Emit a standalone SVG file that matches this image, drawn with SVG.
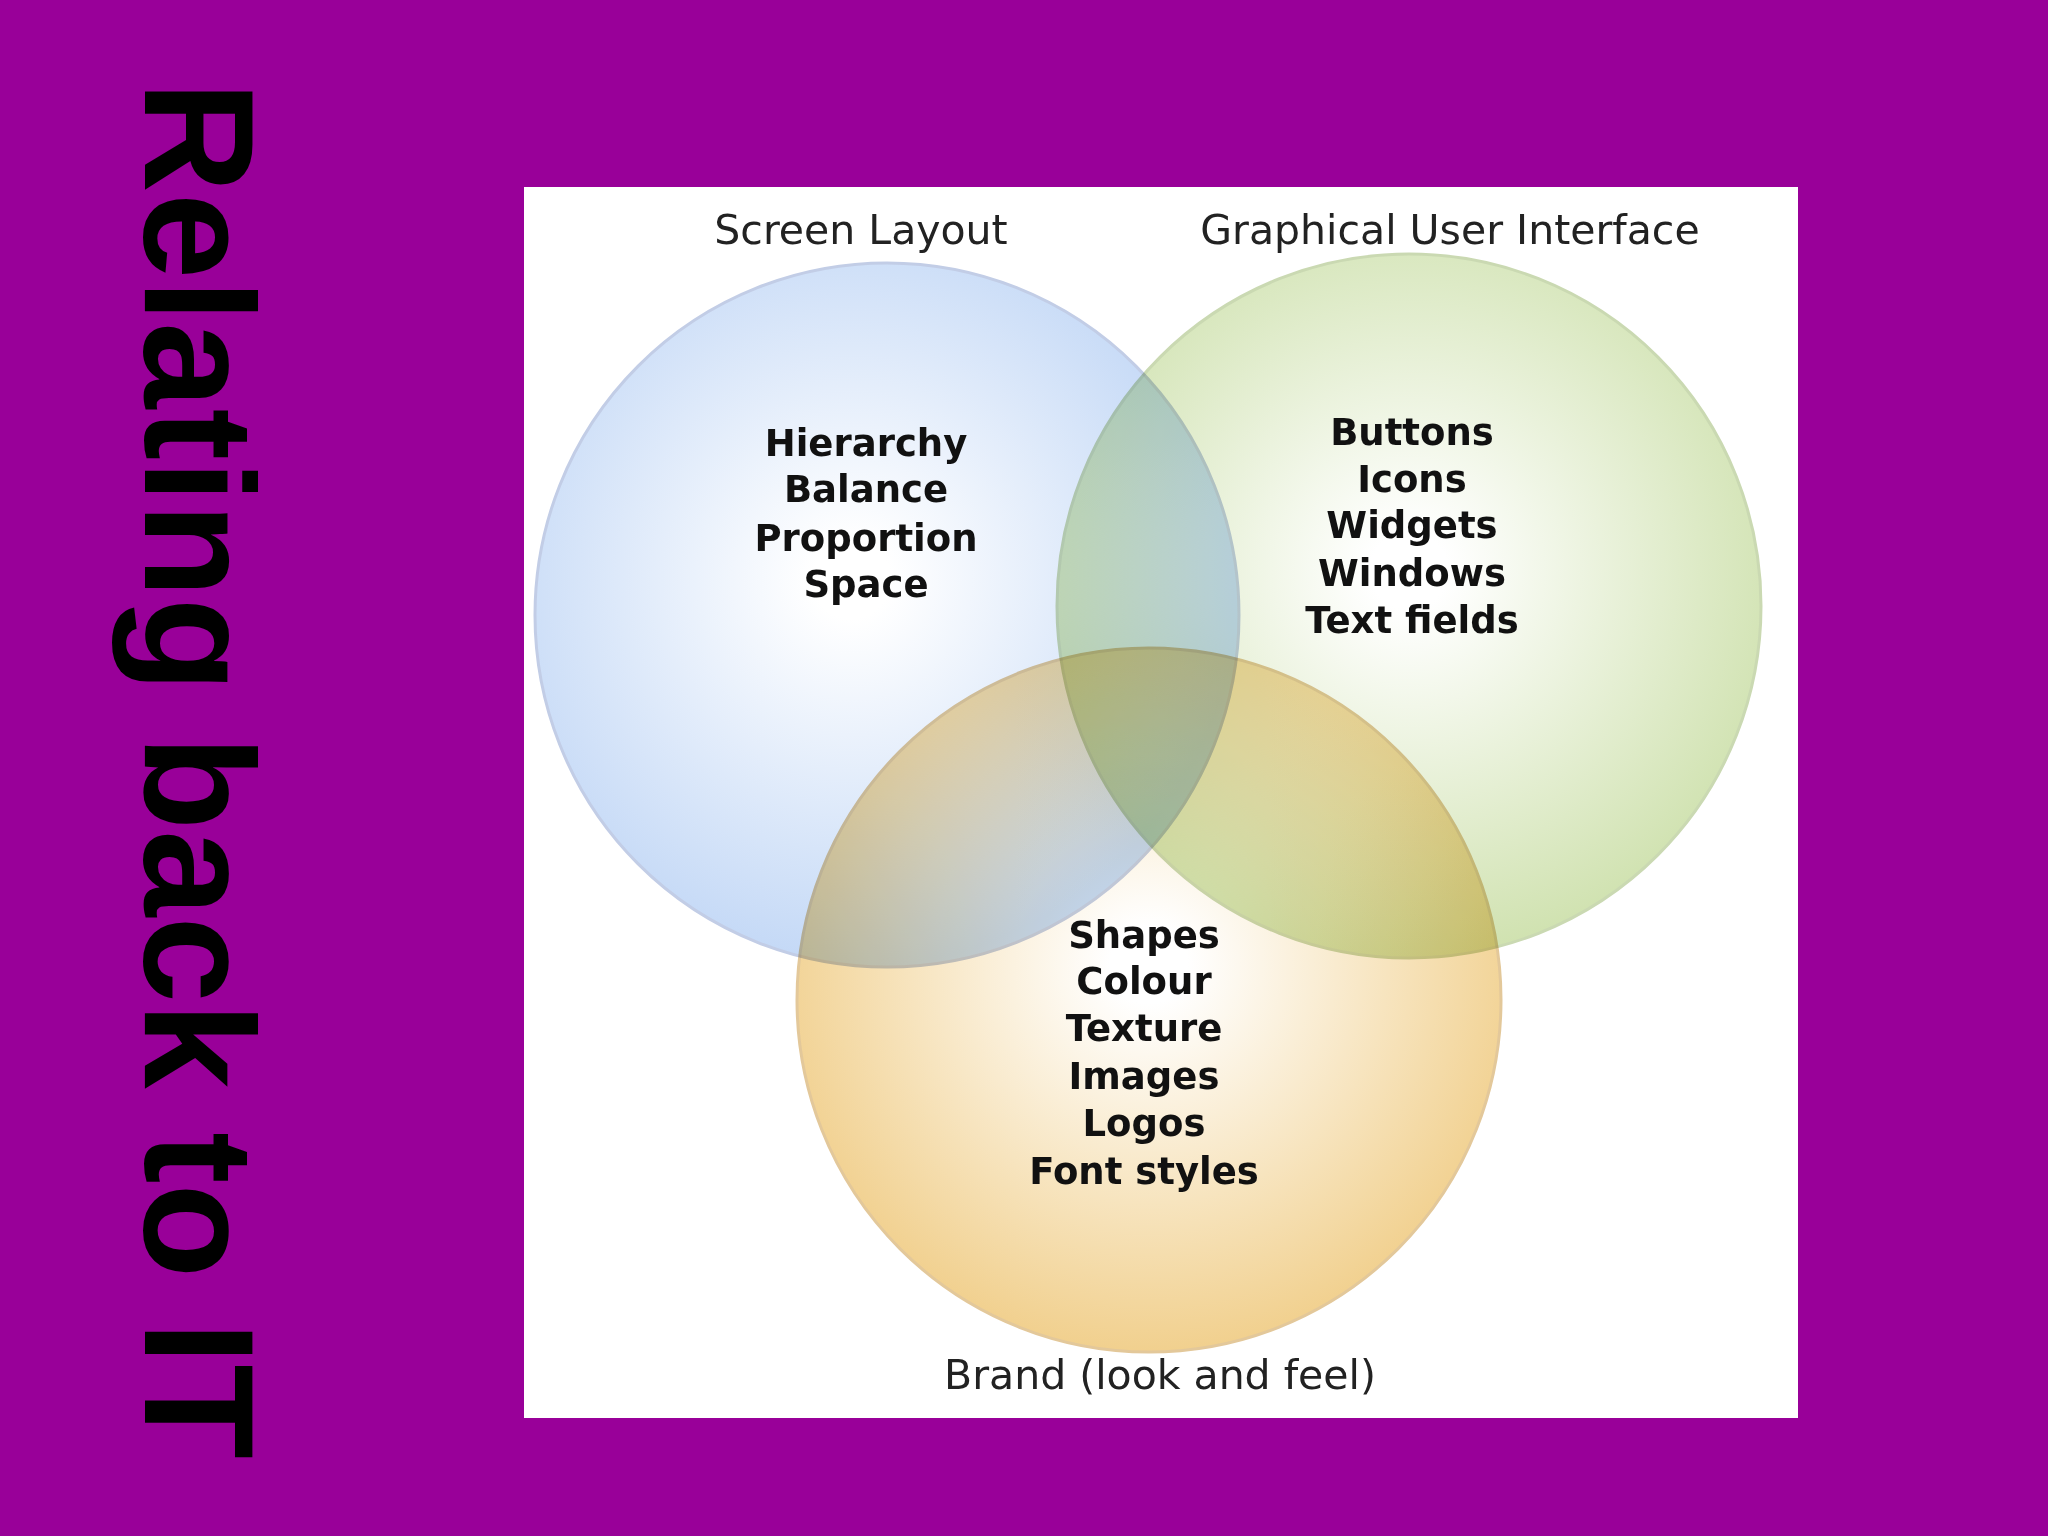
<svg xmlns="http://www.w3.org/2000/svg" width="2048" height="1536" viewBox="0 0 2048 1536">
<style>
.lbl{font-family:"DejaVu Sans",Verdana,sans-serif;font-size:41px;fill:#222;text-anchor:middle}
.in{font-family:"DejaVu Sans",Verdana,sans-serif;font-size:37px;fill:#111;text-anchor:middle;font-weight:bold}
.c{mix-blend-mode:multiply;stroke-width:3}
</style>
<defs>
<radialGradient id="gb" cx="0.45" cy="0.45" r="0.55"><stop offset="0.1" stop-color="#ffffff"/><stop offset="1" stop-color="#c3d8f6"/></radialGradient>
<radialGradient id="gg" cx="0.5" cy="0.45" r="0.55"><stop offset="0.1" stop-color="#ffffff"/><stop offset="1" stop-color="#d0e2b0"/></radialGradient>
<radialGradient id="go" cx="0.5" cy="0.45" r="0.55"><stop offset="0.1" stop-color="#ffffff"/><stop offset="1" stop-color="#f1d08e"/></radialGradient>
</defs>
<rect width="2048" height="1536" fill="#990099"/>
<text transform="translate(145,770) rotate(90)" font-family="Liberation Sans,Arial,sans-serif" font-weight="bold" font-size="155" text-anchor="middle" fill="#000">Relating back to IT</text>
<rect x="524" y="187" width="1274" height="1231" fill="#fff"/>
<g id="screen-layout"><circle class="c" cx="887" cy="615" r="352" fill="url(#gb)" stroke="#c2cde6"/>
<text class="lbl" x="861" y="244">Screen Layout</text>
<text class="in" x="866" y="456">Hierarchy</text><text class="in" x="866" y="502">Balance</text><text class="in" x="866" y="551">Proportion</text><text class="in" x="866" y="597">Space</text></g>
<g id="gui"><circle class="c" cx="1409" cy="606" r="352" fill="url(#gg)" stroke="#cad9b2"/>
<text class="lbl" x="1450" y="244">Graphical User Interface</text>
<text class="in" x="1412" y="445">Buttons</text><text class="in" x="1412" y="492">Icons</text><text class="in" x="1412" y="538">Widgets</text><text class="in" x="1412" y="586">Windows</text><text class="in" x="1412" y="633">Text fields</text></g>
<g id="brand"><circle class="c" cx="1149" cy="1000" r="352" fill="url(#go)" stroke="#e3c89a"/>
<text class="lbl" x="1160" y="1389">Brand (look and feel)</text>
<text class="in" x="1144" y="948">Shapes</text><text class="in" x="1144" y="994">Colour</text><text class="in" x="1144" y="1041">Texture</text><text class="in" x="1144" y="1089">Images</text><text class="in" x="1144" y="1136">Logos</text><text class="in" x="1144" y="1184">Font styles</text></g>
<g id="connectors"/>
</svg>
